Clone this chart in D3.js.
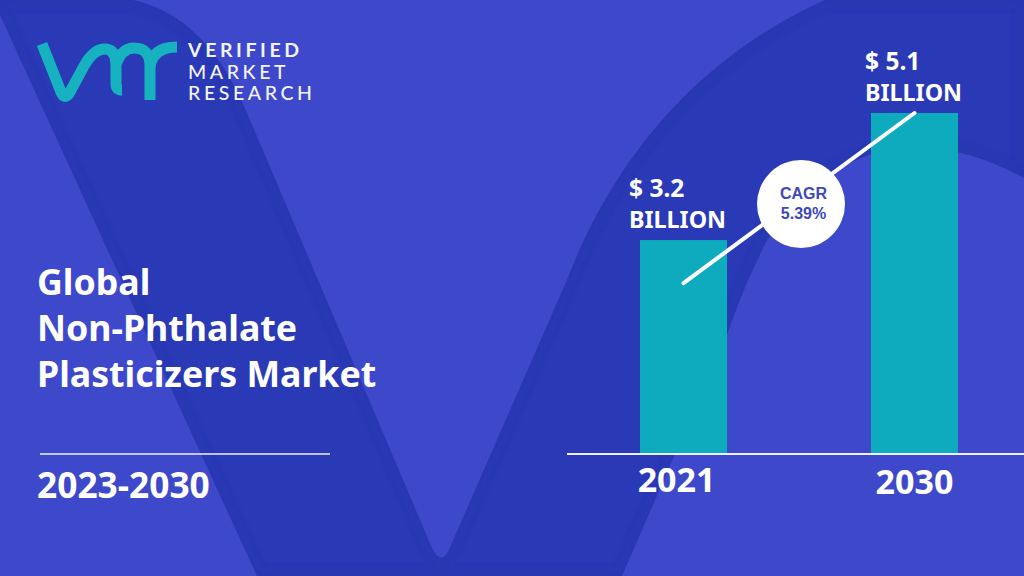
<!DOCTYPE html>
<html>
<head>
<meta charset="utf-8">
<script src="https://cdn.jsdelivr.net/npm/d3@7"></script>
<style>
html, body { margin: 0; padding: 0; background: #3e48cb; overflow: hidden; }
text { font-family: "Noto Sans", "Open Sans", sans-serif; }
</style>
</head>
<body>
<div id="chart"></div>
<script>
var years = ["2021", "2030"];
var values = [3.2, 5.1];
var valueLabels = ["$ 3.2", "$ 5.1"];
var unitLabel = "BILLION";
var titleLines = ["Global", "Non-Phthalate", "Plasticizers Market"];
var period = "2023-2030";
var cagrLines = ["CAGR", "5.39%"];
var brandLines = ["VERIFIED", "MARKET", "RESEARCH"];

var width = 1024, height = 576;
var bgColor = "#3e48cb", darkColor = "#2a39b5", barColor = "#0dabbd";
var vShape = "M0,15 L0,0 L133,0 C170,8 215,35 247,113 L432,548 Q440,565 448,552 L567,280 C600,195 670,70 825,0 L1024,0 L1024,178 C1000,165 960,147 915,147 C860,147 795,185 763,248 C745,285 735,312 728,332 L622,576 L257,576 Z";

var svg = d3.select("#chart").append("svg")
	.attr("width", width)
	.attr("height", height)
	.style("display", "block");

svg.append("rect").attr("width", width).attr("height", height).attr("fill", bgColor);

var defs = svg.append("defs");
defs.append("clipPath").attr("id", "vClip").append("path").attr("d", vShape);
defs.append("filter").attr("id", "soft").append("feGaussianBlur").attr("stdDeviation", 6);

// big V in the background, with its soft inner shadow
svg.append("path").attr("fill", darkColor).attr("d", vShape);
svg.append("g").attr("clip-path", "url(#vClip)").append("path")
	.attr("d", vShape)
	.attr("fill", "none")
	.attr("stroke", "#2331a8")
	.attr("stroke-width", 8)
	.attr("stroke-opacity", 0.5)
	.attr("filter", "url(#soft)");

// bars
var x = d3.scaleBand().domain(years).range([593.8, 1004.2]).paddingInner(0.623).paddingOuter(0.2);
var y = d3.scaleLinear().domain([0, 5.1]).range([454, 113]);

svg.selectAll(".bar").data(values).enter().append("rect")
	.attr("class", "bar")
	.attr("x", function (d, i) { return x(years[i]); })
	.attr("y", function (d) { return y(d); })
	.attr("width", x.bandwidth())
	.attr("height", function (d) { return y(0) - y(d); })
	.attr("fill", barColor);

// axis
var xAxis = d3.axisBottom(x).tickSize(0).tickPadding(0);
var axisG = svg.append("g").attr("transform", "translate(0,454)").call(xAxis);
axisG.select(".domain").remove();
axisG.append("line").attr("x1", 567).attr("x2", 1024).attr("stroke", "#eef0fa").attr("stroke-width", 2);
axisG.selectAll("text")
	.attr("fill", "#fff").attr("font-size", 34).attr("font-weight", 700)
	.attr("dy", 0)
	.attr("x", function (d, i) { return i ? 0 : -7; })
	.attr("y", function (d, i) { return i ? 39.5 : 37.5; });

// value labels
var labelLeft = [629, 865];
svg.selectAll(".val").data(valueLabels).enter().append("text")
	.attr("class", "val")
	.attr("x", function (d, i) { return labelLeft[i]; })
	.attr("y", function (d, i) { return y(values[i]) - 43; })
	.attr("fill", "#fff").attr("font-size", 24.5).attr("font-weight", 700)
	.text(function (d) { return d; });
svg.selectAll(".unit").data(values).enter().append("text")
	.attr("class", "unit")
	.attr("x", function (d, i) { return labelLeft[i]; })
	.attr("y", function (d) { return y(d) - 12.5; })
	.attr("fill", "#fff").attr("font-size", 23.3).attr("font-weight", 700)
	.text(unitLabel);

// cagr line + circle
svg.append("line")
	.attr("x1", x(years[0]) + x.bandwidth() / 2).attr("y1", y(values[0]) + 43)
	.attr("x2", x(years[1]) + x.bandwidth() / 2).attr("y2", y(values[1]))
	.attr("stroke", "#fff").attr("stroke-width", 4).attr("stroke-linecap", "round");
svg.append("circle").attr("cx", 801).attr("cy", 204).attr("r", 44).attr("fill", "#fff");
svg.selectAll(".cagr").data(cagrLines).enter().append("text")
	.attr("class", "cagr")
	.attr("x", 803.5)
	.attr("y", function (d, i) { return 199 + i * 20; })
	.attr("text-anchor", "middle")
	.attr("fill", "#3e48b8").attr("font-size", 16).attr("font-weight", 700)
	.style("font-family", '"Liberation Sans", sans-serif')
	.text(function (d) { return d; });

// title block
svg.selectAll(".title").data(titleLines).enter().append("text")
	.attr("class", "title")
	.attr("x", 37)
	.attr("y", function (d, i) { return 295 + i * 46; })
	.attr("fill", "#fff").attr("font-size", 35.7).attr("font-weight", 700)
	.text(function (d) { return d; });
svg.append("line").attr("x1", 40).attr("x2", 330).attr("y1", 454).attr("y2", 454)
	.attr("stroke", "#f0f2fb").attr("stroke-width", 1.5);
svg.append("text").attr("x", 37).attr("y", 498)
	.attr("fill", "#fff").attr("font-size", 35.3).attr("font-weight", 700)
	.text(period);

// logo
svg.append("path")
	.attr("fill", "none").attr("stroke", "#17b2c0").attr("stroke-width", 11)
	.attr("stroke-linejoin", "round")
	.attr("d", "M42,44 L61,92 Q65,101 70,92 L84,66 Q94,48 106,49 Q116,50 116,66 L116,84 Q116,90 122,90 M116,64 Q122,48 134,48 Q150,48 150,66 L150,100 M150,68 Q152,47 177,47");
svg.selectAll(".brand").data(brandLines).enter().append("text")
	.attr("class", "brand")
	.attr("x", 188)
	.attr("y", function (d, i) { return 57 + i * 21.5; })
	.attr("fill", "#f2f4fc").attr("font-size", 19.5).attr("font-weight", function (d, i) { return i ? 500 : 700; })
	.style("font-family", "Lato, sans-serif")
	.style("letter-spacing", "3.6px")
	.text(function (d) { return d; });
</script>
</body>
</html>
